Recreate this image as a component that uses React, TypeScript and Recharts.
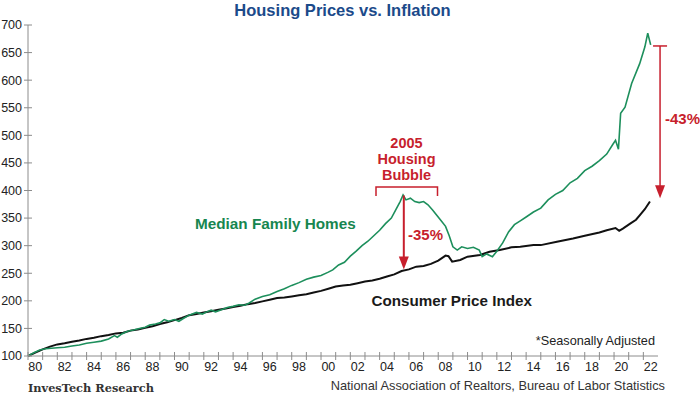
import { LineChart, Line, XAxis, YAxis, ReferenceLine } from 'recharts';

// Consumer Price Index, indexed to 100 at Jan 1980
const cpiYears = [
  1980, 1980.5, 1981, 1981.5, 1982, 1982.5, 1983, 1983.5, 1984, 1984.5, 1985, 1985.5,
  1986, 1986.5, 1987, 1987.5, 1988, 1988.5, 1989, 1989.5, 1990, 1990.5, 1991, 1991.5,
  1992, 1992.5, 1993, 1993.5, 1994, 1994.5, 1995, 1995.5, 1996, 1996.5, 1997, 1997.5,
  1998, 1998.5, 1999, 1999.5, 2000, 2000.5, 2001, 2001.5, 2002, 2002.5, 2003, 2003.5,
  2004, 2004.5, 2005, 2005.5, 2006, 2006.5, 2007, 2007.5, 2008, 2008.5, 2008.7, 2008.95,
  2009.5, 2010, 2010.85, 2011.5, 2012.2, 2013, 2013.6, 2014.5, 2015, 2016.1, 2017.2, 2018,
  2019, 2019.5, 2020.1, 2020.35, 2020.6, 2021.1, 2021.5, 2021.75, 2022.1, 2022.45,
];
const cpiValues = [
  100, 106, 112, 117, 121, 123, 126, 128, 131, 133, 136, 138,
  141, 142, 146, 148, 151, 154, 158, 161, 165, 169, 174, 176,
  179, 181, 184, 186, 189, 191, 194, 196, 199, 202, 205, 206,
  208, 210, 212, 215, 218, 222, 226, 228, 229, 232, 235, 237,
  240, 244, 248, 254, 257, 262, 263, 267, 273, 282, 281, 271,
  274, 280, 283, 289, 292, 297, 298, 301, 301, 307, 313, 318,
  324, 328, 332, 327, 331, 340, 347, 355, 366, 380,
];

// Median family home price, indexed to 100 at Jan 1980
const homeYears = [
  1980, 1980.4, 1980.8, 1981.2, 1981.6, 1982, 1982.5, 1983, 1983.5, 1984, 1984.5, 1985,
  1985.5, 1985.9, 1986.1, 1986.4, 1986.8, 1987.2, 1987.6, 1988, 1988.3, 1988.7, 1989, 1989.3,
  1989.6, 1990, 1990.3, 1990.6, 1991, 1991.5, 1991.9, 1992.2, 1992.5, 1992.8, 1993.2, 1993.6,
  1994, 1994.4, 1994.8, 1995.1, 1995.5, 1996, 1996.5, 1997, 1997.5, 1998, 1998.5, 1999,
  1999.5, 2000, 2000.5, 2000.8, 2001.2, 2001.6, 2002, 2002.4, 2002.8, 2003.2, 2003.6, 2004,
  2004.4, 2004.8, 2005.1, 2005.4, 2005.6, 2005.8, 2006.1, 2006.4, 2006.7, 2007, 2007.3, 2007.6,
  2007.9, 2008.2, 2008.5, 2008.75, 2009, 2009.3, 2009.6, 2010, 2010.4, 2010.8, 2011, 2011.3,
  2011.7, 2012, 2012.4, 2012.8, 2013.2, 2013.6, 2014, 2014.5, 2015, 2015.5, 2016, 2016.5,
  2017, 2017.5, 2018, 2018.5, 2019, 2019.5, 2019.9, 2020.1, 2020.3, 2020.45, 2020.75, 2021.2,
  2021.75, 2022.1, 2022.3, 2022.5,
];
const homeValues = [
  100, 106, 111, 113, 114, 115, 116, 118, 120, 123, 125, 127,
  131, 137, 134, 140, 145, 147, 150, 152, 156, 158, 160, 166,
  163, 166, 163, 168, 174, 179, 176, 180, 183, 180, 184, 188,
  190, 193, 192, 196, 203, 208, 211, 217, 222, 228, 233, 239,
  243, 246, 252, 256, 265, 270, 281, 290, 300, 308, 318, 328,
  340, 350, 365, 380, 392, 383, 386, 380, 378, 380, 374, 365,
  355, 345, 335, 318, 298, 292, 298, 295, 297, 292, 280, 285,
  280, 290, 305, 325, 338, 345, 352, 361, 368, 383, 393, 400,
  414, 422, 436, 444, 454, 466, 483, 491, 475, 540, 551, 594,
  630, 660, 685, 664,
];

const yTicks = [100, 150, 200, 250, 300, 350, 400, 450, 500, 550, 600, 650, 700];
const yearLabels = [
  '80', '82', '84', '86', '88', '90', '92', '94', '96', '98', '00',
  '02', '04', '06', '08', '10', '12', '14', '16', '18', '20', '22',
];

const cpiData = cpiYears.map((year, i) => ({ year, value: cpiValues[i] }));
const homeData = homeYears.map((year, i) => ({ year, value: homeValues[i] }));

// year boundary ticks, and labels centred in the middle of each labelled year
const labelPos = new Map<number, string>();
yearLabels.forEach((lbl) => {
  const n = Number(lbl);
  labelPos.set((n >= 50 ? 1900 : 2000) + n + 0.5, lbl);
});
const boundaryTicks = Array.from({ length: 43 }, (_, i) => 1980 + i);
const xTicks = [...boundaryTicks, ...labelPos.keys()].sort((a, b) => a - b);

const FONT = '"Liberation Sans", Arial, sans-serif';
const AXIS = '#8c8c8c';
const RED = '#c71f2d';
const GREEN = '#1d8f5c';

function XTick(props: any) {
  const { x, y, payload } = props;
  const axisY = y - 4;
  const v = payload.value as number;
  if (Number.isInteger(v)) {
    return <line x1={x} x2={x} y1={axisY - 4} y2={axisY + 4} stroke={AXIS} strokeWidth={1} />;
  }
  return (
    <text x={x} y={axisY + 11} dy="0.35em" textAnchor="middle" fontSize={12.5} fontFamily={FONT} fill="#222">
      {labelPos.get(v)}
    </text>
  );
}

function YTick(props: any) {
  const { x, y, payload } = props;
  const axisX = x + 6;
  return (
    <g>
      <line x1={axisX - 4} x2={axisX + 4} y1={y} y2={y} stroke={AXIS} strokeWidth={1} />
      <text x={axisX - 6} y={y} dy="0.35em" textAnchor="end" fontSize={12.5} fontFamily={FONT} fill="#222">
        {payload.value}
      </text>
    </g>
  );
}

function Arrow(props: any) {
  const { x1, y1, x2, y2, cap, width } = props;
  const head = 13;
  return (
    <g>
      {cap ? <line x1={x1 - cap / 2} x2={x1 + cap / 2} y1={y1} y2={y1} stroke={RED} strokeWidth={1.5} /> : null}
      <line x1={x1} x2={x2} y1={y1} y2={y2 - head + 1} stroke={RED} strokeWidth={width} />
      <polygon points={`${x2 - 5},${y2 - head} ${x2 + 5},${y2 - head} ${x2},${y2}`} fill={RED} />
    </g>
  );
}

export default function App() {
  return (
    <div style={{ position: 'absolute', left: 0, top: 0, width: 700, height: 396, background: '#fff' }}>
      <LineChart width={700} height={396} margin={{ top: 25, right: 42, bottom: 0, left: 0 }}>
        <XAxis
          type="number"
          dataKey="year"
          domain={[1980, 2023]}
          ticks={xTicks}
          interval={0}
          tick={<XTick />}
          tickLine={false}
          tickSize={4}
          tickMargin={0}
          height={40}
          axisLine={{ stroke: AXIS, strokeWidth: 1 }}
          allowDuplicatedCategory={false}
        />
        <YAxis
          type="number"
          domain={[100, 700]}
          ticks={yTicks}
          interval={0}
          tick={<YTick />}
          tickLine={false}
          tickSize={4}
          tickMargin={2}
          width={28}
          axisLine={{ stroke: AXIS, strokeWidth: 1 }}
        />
        <Line
          data={cpiData}
          dataKey="value"
          type="linear"
          stroke="#111"
          strokeWidth={2}
          dot={false}
          isAnimationActive={false}
        />
        <Line
          data={homeData}
          dataKey="value"
          type="linear"
          stroke={GREEN}
          strokeWidth={1.6}
          dot={false}
          isAnimationActive={false}
        />
        <ReferenceLine
          segment={[{ x: 2005.65, y: 391 }, { x: 2005.65, y: 257 }]}
          ifOverflow="visible"
          shape={(p: any) => <Arrow {...p} width={2} />}
        />
        <ReferenceLine
          segment={[{ x: 2023.14, y: 662 }, { x: 2023.14, y: 386 }]}
          ifOverflow="visible"
          shape={(p: any) => <Arrow {...p} cap={14} width={1.5} />}
        />
      </LineChart>
      <svg
        width={700}
        height={396}
        style={{ position: 'absolute', left: 0, top: 0, pointerEvents: 'none' }}
        fontFamily={FONT}
      >
        <text x={342.5} y={15.5} textAnchor="middle" fontSize={16.5} fontWeight="bold" fill="#1b4a8a">
          Housing Prices vs. Inflation
        </text>
        <g fill={RED} fontWeight="bold" fontSize={14.5} textAnchor="middle">
          <text x={406.5} y={147.5}>2005</text>
          <text x={406.5} y={163.8}>Housing</text>
          <text x={406.5} y={180.1}>Bubble</text>
        </g>
        <path d="M376 196 V187 H437.5 V196" fill="none" stroke={RED} strokeWidth={1.5} />
        <text x={408} y={240} fill={RED} fontWeight="bold" fontSize={15}>-35%</text>
        <text x={665} y={124} fill={RED} fontWeight="bold" fontSize={15}>-43%</text>
        <text x={195} y={228.5} fill="#17864f" fontWeight="bold" fontSize={15.3}>Median Family Homes</text>
        <text x={371.5} y={305.5} fill="#1a1a1a" fontWeight="bold" fontSize={15.2}>Consumer Price Index</text>
        <text x={655} y={345} textAnchor="end" fill="#222" fontSize={12.7}>*Seasonally Adjusted</text>
        <text x={665} y={390} textAnchor="end" fill="#333" fontSize={12.8}>
          National Association of Realtors, Bureau of Labor Statistics
        </text>
        <text
          x={28}
          y={392}
          fill="#333"
          fontWeight="bold"
          fontSize={11.5}
          fontFamily='"DejaVu Serif", serif'
          textLength={126}
          lengthAdjust="spacingAndGlyphs"
        >
          InvesTech Research
        </text>
      </svg>
    </div>
  );
}
